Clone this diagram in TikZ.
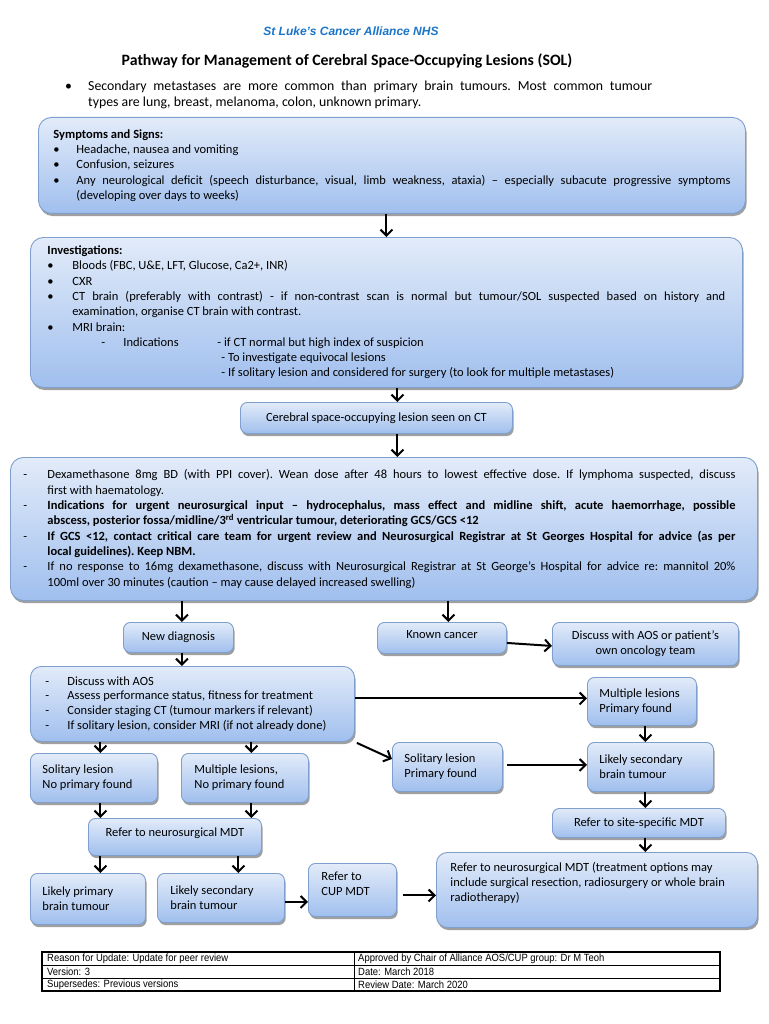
\documentclass[tikz,border=0pt]{standalone}
\usepackage{fontspec}
\setmainfont{Carlito}
\newfontfamily\arialf{Liberation Sans}
\newfontfamily\arialn[FakeStretch=0.9]{Liberation Sans}
\usetikzlibrary{arrows.meta,shadows}
\definecolor{boxtop}{HTML}{E2EBF9}
\definecolor{boxbot}{HTML}{A0BFEE}
\definecolor{boxline}{HTML}{7F9FCC}
\definecolor{hdrblue}{HTML}{1A75C9}
\newcommand\bodyfs{\fontsize{12.5}{15.3}\selectfont}
\newcommand\bitem[3]{\par\noindent\hangindent=#1\hangafter=1\makebox[#1][l]{#2}{#3}\par}
\newcommand\inbox[4]{\makebox[#1][l]{\hspace*{#2}\parbox[c]{\dimexpr#1-#2-#3\relax}{\frenchspacing\hyphenpenalty=10000\exhyphenpenalty=10000 #4}}}
\begin{document}
\begin{tikzpicture}[x=1pt,y=-1pt,
  box/.style={draw=boxline, line width=0.9pt, top color=boxtop, bottom color=boxbot,
    inner sep=0pt, anchor=north west, font=\bodyfs,
    drop shadow={shadow xshift=1.2pt, shadow yshift=-2.6pt, opacity=0.5, fill=black!75}},
  bigbox/.style={box, rounded corners=13pt},
  smallbox/.style={box, rounded corners=7pt, align=center},
  sz/.style 2 args={minimum width=#1pt, minimum height=#2pt},
  arr/.style={-{Straight Barb[length=6pt,width=12pt]}, line width=2pt, black},
  tcell/.style={anchor=west, inner sep=0pt, font=\arialn\fontsize{10.5}{12}\selectfont}]
\useasboundingbox (0,0) rectangle (768,1024);
\fill[white] (0,0) rectangle (768,1024);

% header
\node[anchor=base, inner sep=0pt, text=hdrblue, font=\arialf\bfseries\itshape\fontsize{12}{14}\selectfont] (hdr) at (351,36) {St Luke’s Cancer Alliance NHS};
\node[anchor=base, inner sep=0pt, font=\bfseries\fontsize{15.8}{19}\selectfont] (title) at (347,66) {Pathway for Management of Cerebral Space-Occupying Lesions (SOL)};
\node[anchor=base west, inner sep=0pt, font=\fontsize{13.8}{16}\selectfont] (intro) at (65,91)
 {\parbox[t]{587pt}{\frenchspacing\noindent\hangindent=23pt\hangafter=1\makebox[23pt][l]{•}Secondary metastases are more common than primary brain tumours. Most common tumour\linebreak types are lung, breast, melanoma, colon, unknown primary.}};

% big boxes
\node[bigbox, sz={707}{96}] (sym) at (38,117) {\inbox{707pt}{15pt}{15pt}{%
 {\bfseries Symptoms and Signs:}\par
 \bitem{23pt}{•}{Headache, nausea and vomiting}
 \bitem{23pt}{•}{Confusion, seizures}
 \bitem{23pt}{•}{Any neurological deficit (speech disturbance, visual, limb weakness, ataxia) – especially subacute progressive symptoms\linebreak (developing over days to weeks)}}};

\node[bigbox, sz={712}{150}] (inv) at (30,237) {\inbox{712pt}{17pt}{17pt}{%
 {\bfseries Investigations:}\par
 \bitem{25pt}{•}{Bloods (FBC, U\&E, LFT, Glucose, Ca2+, INR)}
 \bitem{25pt}{•}{CXR}
 \bitem{25pt}{•}{CT brain (preferably with contrast) - if non-contrast scan is normal but tumour/SOL suspected based on history and\linebreak examination, organise CT brain with contrast.}
 \bitem{25pt}{•}{MRI brain:}
 \noindent\hspace*{54pt}\makebox[22pt][l]{-}\makebox[94pt][l]{Indications}- if CT normal but high index of suspicion\par
 \noindent\hspace*{174pt}- To investigate equivocal lesions\par
 \noindent\hspace*{174pt}- If solitary lesion and considered for surgery (to look for multiple metastases)\par}};

\node[smallbox, sz={272}{31}] (ct) at (240,402) {Cerebral space-occupying lesion seen on CT};

\node[bigbox, sz={747}{143}] (dex) at (10,457) {\inbox{747pt}{13pt}{22pt}{%
 \bitem{24pt}{-}{Dexamethasone 8mg BD (with PPI cover). Wean dose after 48 hours to lowest effective dose. If lymphoma suspected, discuss\linebreak first with haematology.}
 \bitem{24pt}{-}{\bfseries Indications for urgent neurosurgical input – hydrocephalus, mass effect and midline shift, acute haemorrhage, possible\linebreak abscess, posterior fossa/midline/3\textsuperscript{rd} ventricular tumour, deteriorating GCS/GCS <12}
 \bitem{24pt}{-}{\bfseries If GCS <12, contact critical care team for urgent review and Neurosurgical Registrar at St Georges Hospital for advice (as per\linebreak local guidelines). Keep NBM.}
 \bitem{24pt}{-}{If no response to 16mg dexamethasone, discuss with Neurosurgical Registrar at St George’s Hospital for advice re: mannitol 20\%\linebreak 100ml over 30 minutes (caution – may cause delayed increased swelling)}}};

% second level
\node[smallbox, sz={110}{30}] (newd) at (123,622) {New diagnosis};
\node[smallbox, sz={129}{31}, text height=9pt, text depth=8pt] (known) at (377,622) {Known cancer};
\node[smallbox, sz={186}{43}] (disc) at (552,622) {Discuss with AOS or patient’s\\own oncology team};

\node[bigbox, rounded corners=11pt, sz={324}{75}] (mid) at (30,666) {\inbox{324pt}{15pt}{5pt}{\fontsize{12.5}{14.8}\selectfont
 \bitem{22pt}{-}{Discuss with AOS}
 \bitem{22pt}{-}{Assess performance status, fitness for treatment}
 \bitem{22pt}{-}{Consider staging CT (tumour markers if relevant)}
 \bitem{22pt}{-}{If solitary lesion, consider MRI (if not already done)}}};

\node[smallbox, sz={109}{48}] (mlpf) at (587,677) {\inbox{109pt}{12pt}{2pt}{Multiple lesions\\Primary found}};
\node[smallbox, sz={126}{49}] (lsr) at (587,742) {\inbox{126pt}{12pt}{2pt}{Likely secondary\\brain tumour}};
\node[smallbox, sz={110}{49}] (slpf) at (392,742) {\inbox{110pt}{12pt}{2pt}{Solitary lesion\\Primary found}};
\node[smallbox, sz={173}{29}] (site) at (552,808) {Refer to site-specific MDT};
\node[bigbox, rounded corners=11pt, sz={321}{75}] (big) at (436,852) {\makebox[321pt][l]{\hspace*{14pt}\parbox[c][56pt][t]{300pt}{Refer to neurosurgical MDT (treatment options may\\include surgical resection, radiosurgery or whole brain\\radiotherapy)}}};

\node[smallbox, sz={127}{49}] (slnp) at (30,753) {\inbox{127pt}{12pt}{2pt}{Solitary lesion\\No primary found}};
\node[smallbox, sz={127}{49}] (mlnp) at (181,753) {\inbox{127pt}{13pt}{2pt}{Multiple lesions,\\No primary found}};
\node[smallbox, sz={173}{37}, text height=9pt, text depth=10pt] (refl) at (88,818) {Refer to neurosurgical MDT};
\node[smallbox, sz={115}{51}] (lpb) at (30,873) {\inbox{115pt}{12pt}{2pt}{Likely primary\\brain tumour}};
\node[smallbox, sz={127}{49}] (lsb) at (157,873) {\inbox{127pt}{13pt}{2pt}{Likely secondary\\brain tumour}};
\node[smallbox, sz={88}{53}] (cup) at (308,863) {\makebox[88pt][l]{\hspace*{13pt}\parbox[c][36pt][t]{73pt}{Refer to\\CUP MDT}}};

% arrows
\draw[arr] (inv.north |- sym.south) -- (inv.north);
\draw[arr] ([xshift=21pt]ct.north |- inv.south) -- ([xshift=21pt]ct.north);
\draw[arr] ([xshift=21pt]ct.south) -- ([xshift=21pt]ct.south |- dex.north);
\draw[arr] ([xshift=3.5pt]newd.north |- dex.south) -- ([xshift=3.5pt]newd.north);
\draw[arr] ([xshift=6.5pt]known.north |- dex.south) -- ([xshift=6.5pt]known.north);
\draw[arr] ([yshift=-5pt]known.east) -- ([yshift=-2pt]disc.west);
\draw[arr] ([xshift=3.5pt]newd.south) -- ([xshift=3.5pt]newd.south |- mid.north);
\draw[arr] ([yshift=5.5pt]mid.east) -- ([yshift=5.5pt]mid.east -| mlpf.west);
\draw[arr] ([xshift=2pt,yshift=-1pt]mid.south east) -- ([yshift=8pt]slpf.west);
\draw[arr] ([xshift=4pt,yshift=2pt]slpf.east) -- ([yshift=2pt]slpf.east -| lsr.west);
\draw[arr] ([xshift=3.5pt]mlpf.south) -- ([xshift=3.5pt]mlpf.south |- lsr.north);
\draw[arr] ([xshift=-5pt]lsr.south) -- ([xshift=-5pt]lsr.south |- site.north);
\draw[arr] ([xshift=-5pt]lsr.south |- site.south) -- ([xshift=-5pt]lsr.south |- big.north);
\draw[arr] ([xshift=6.5pt]slnp.north |- mid.south) -- ([xshift=6.5pt]slnp.north);
\draw[arr] ([xshift=6.5pt]mlnp.north |- mid.south) -- ([xshift=6.5pt]mlnp.north);
\draw[arr] ([xshift=6.5pt]slnp.south) -- ([xshift=6.5pt]slnp.south |- refl.north);
\draw[arr] ([xshift=6.5pt]mlnp.south) -- ([xshift=6.5pt]mlnp.south |- refl.north);
\draw[arr] ([xshift=12.5pt]lpb.north |- refl.south) -- ([xshift=12.5pt]lpb.north);
\draw[arr] ([xshift=17.5pt]lsb.north |- refl.south) -- ([xshift=17.5pt]lsb.north);
\draw[arr] ([yshift=-4pt]lsb.east) -- ([yshift=-4pt]lsb.east -| cup.west);
\draw[arr] ([xshift=6pt,yshift=-5.5pt]cup.east) -- ([yshift=-5.5pt]cup.east -| big.west);

% table
\draw[line width=0.6pt] (42,965) -- (720,965) (42,978) -- (720,978) (354,952) -- (354,991);
\draw[line width=1.1pt] (42,952) rectangle (720,991);
\node[tcell] (t1) at (47,958.5) {Reason for Update: Update for peer review};
\node[tcell] (t2) at (358,958.5) {Approved by Chair of Alliance AOS/CUP group: Dr M Teoh};
\node[tcell] (t3) at (47,971.5) {Version: 3};
\node[tcell] (t4) at (358,971.5) {Date: March 2018};
\node[tcell] (t5) at (47,984.5) {Supersedes: Previous versions};
\node[tcell] (t6) at (358,984.5) {Review Date: March 2020};
\end{tikzpicture}
\end{document}
